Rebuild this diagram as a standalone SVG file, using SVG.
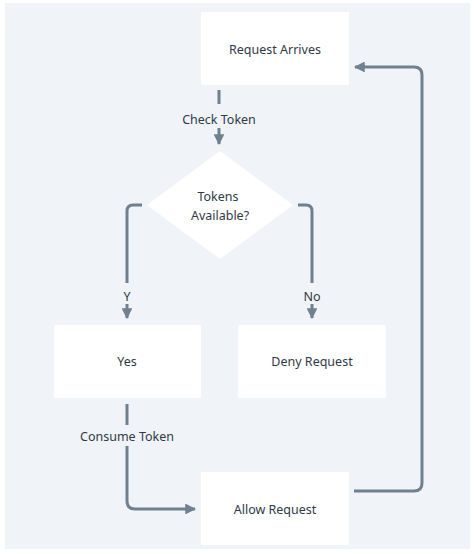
<svg xmlns="http://www.w3.org/2000/svg" width="474" height="554" viewBox="0 0 474 554">
<defs>
<style>
.node{fill:#ffffff;}
.lbl{font-family:"Noto Sans","Liberation Sans",sans-serif;font-size:12.5px;fill:#2f3a46;text-anchor:middle;dominant-baseline:central;}
.edge{fill:none;stroke:#6f808f;stroke-width:3;}
.elbl{font-family:"Noto Sans","Liberation Sans",sans-serif;font-size:12.5px;fill:#2f3a46;text-anchor:middle;dominant-baseline:central;}
</style>
<marker id="ah" viewBox="0 0 10 10" refX="9" refY="5" markerWidth="3.6" markerHeight="3.6" orient="auto" markerUnits="strokeWidth">
<path d="M0,0 L10,5 L0,10 Z" fill="#6f808f"/>
</marker>
</defs>
<rect width="474" height="554" fill="#ffffff"/>
<rect x="5" y="3" width="465" height="546" fill="#f0f4f8"/>
<g id="connectors">
<path class="edge" d="M219,90 V104"/>
<path class="edge" d="M219,128 V144" marker-end="url(#ah)"/>
<path class="edge" d="M142,205 H133 Q127,205 127,211 V283"/>
<path class="edge" d="M127,304 V318" marker-end="url(#ah)"/>
<path class="edge" d="M298,205 H306 Q312,205 312,211 V283"/>
<path class="edge" d="M312,304 V318" marker-end="url(#ah)"/>
<path class="edge" d="M127,404 V425"/>
<path class="edge" d="M127,446 V501 Q127,509 135,509 H195" marker-end="url(#ah)"/>
<path class="edge" d="M354,491 H414 Q422,491 422,483 V75 Q422,67 414,67 H355" marker-end="url(#ah)"/>
<text class="elbl" x="219" y="119">Check Token</text>
<text class="elbl" x="127" y="296">Y</text>
<text class="elbl" x="312" y="296">No</text>
<text class="elbl" x="127" y="436">Consume Token</text>
</g>
<g id="request-arrives">
<rect class="node" x="201" y="12" width="148" height="73" rx="1"/>
<text class="lbl" x="275" y="49">Request Arrives</text>
</g>
<g id="tokens-available">
<polygon class="node" points="220,151 293,205 220,259 147,205"/>
<text class="lbl" x="218" y="196">Tokens</text>
<text class="lbl" x="220" y="215">Available?</text>
</g>
<g id="yes">
<rect class="node" x="54" y="325" width="147" height="73" rx="1"/>
<text class="lbl" x="127" y="361">Yes</text>
</g>
<g id="deny-request">
<rect class="node" x="238" y="325" width="148" height="73" rx="1"/>
<text class="lbl" x="312" y="361">Deny Request</text>
</g>
<g id="allow-request">
<rect class="node" x="201" y="472" width="148" height="73" rx="1"/>
<text class="lbl" x="275" y="509">Allow Request</text>
</g>
</svg>
